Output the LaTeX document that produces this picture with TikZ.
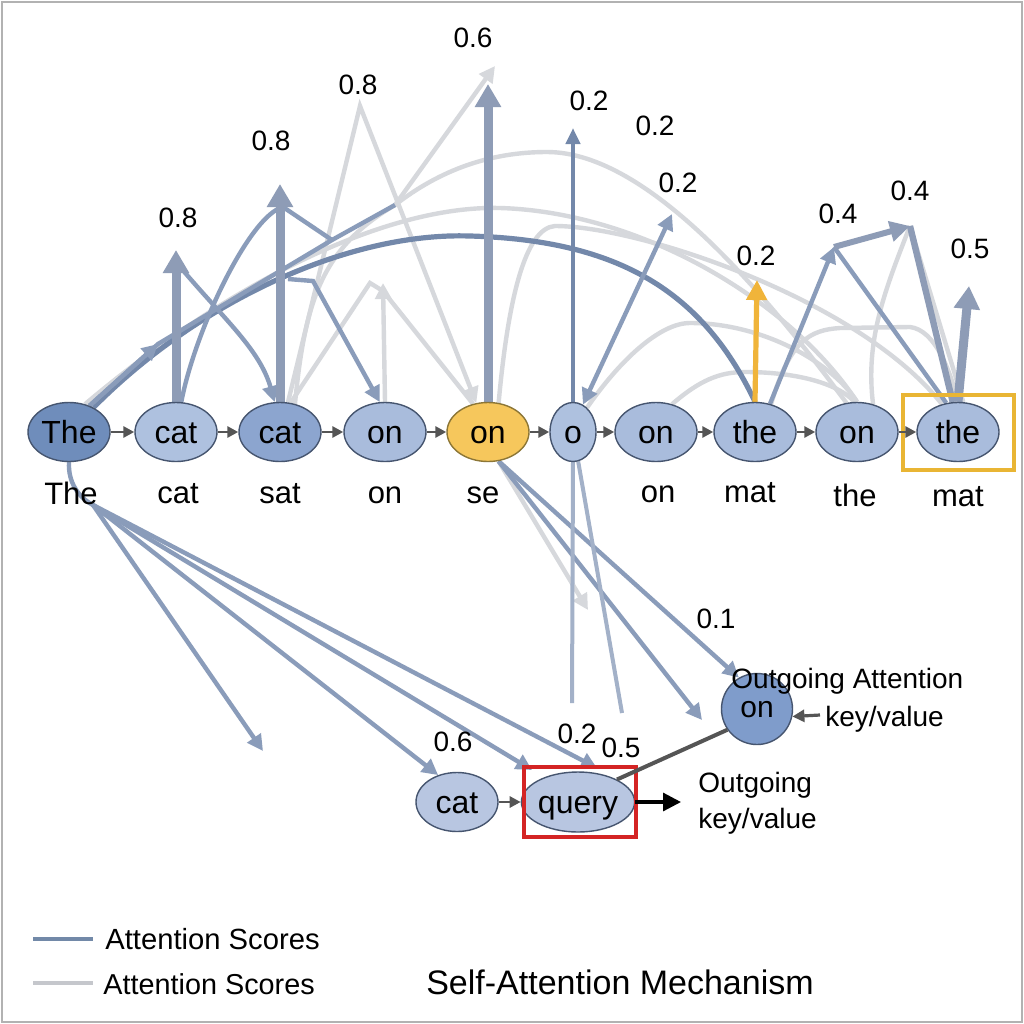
\documentclass[tikz,border=0pt]{standalone}
\usepackage{fontspec}
\setmainfont{Liberation Sans}
\usetikzlibrary{shapes.geometric,arrows.meta}
\pgfdeclarelayer{background}
\pgfdeclarelayer{canvas}
\pgfsetlayers{canvas,background,main}
\definecolor{cThe}{HTML}{6F8DBB}
\definecolor{cMid}{HTML}{8CA5CF}
\definecolor{cLight}{HTML}{AEC1DF}
\definecolor{cOn}{HTML}{A9BCDC}
\definecolor{cYel}{HTML}{F6C75C}
\definecolor{cYelB}{HTML}{8C7636}
\definecolor{cBord}{HTML}{46556F}
\definecolor{cCirc}{HTML}{7F9CCB}
\definecolor{cBot}{HTML}{B8C6E1}
\definecolor{aBlue}{HTML}{8A9CBA}
\definecolor{aDark}{HTML}{7388AA}
\definecolor{aLight}{HTML}{D6D8DC}
\definecolor{aThick}{HTML}{8E9CB6}
\definecolor{aPale}{HTML}{A3B1C8}
\definecolor{cOrange}{HTML}{F0B43A}
\definecolor{cBoxY}{HTML}{E9B534}
\definecolor{cRed}{HTML}{D42424}
\definecolor{cSeq}{HTML}{555555}
\definecolor{lgDark}{HTML}{7289A8}
\definecolor{lgLight}{HTML}{C5C7CC}
\tikzset{
  tok/.style={ellipse, draw=cBord, line width=0.7pt, minimum width=41pt, minimum height=29.5pt, inner sep=0pt, text height=11.5pt, text depth=0.5pt, font=\fontsize{16}{16}\selectfont},
  wlab/.style={anchor=base, inner sep=0pt, font=\fontsize{15.5}{15.5}\selectfont},
  val/.style={anchor=base, inner sep=0pt, font=\fontsize{14}{14}\selectfont},
  txt/.style={anchor=base west, inner sep=0pt, font=\fontsize{14}{14}\selectfont},
  seqA/.style={draw=cSeq, line width=1.4pt, -{Triangle[length=5.5pt,width=5.5pt]}},
  thickA/.style={draw=aThick, line width=4.5pt, -{Triangle[length=11.5pt,width=12.5pt]}},
  medA/.style={draw=aBlue, line width=2.2pt, -{Triangle[length=8pt,width=8pt]}},
  medL/.style={draw=aBlue, line width=2.2pt},
  darkL/.style={draw=aDark, line width=2.6pt},
  lightL/.style={draw=aLight, line width=2.2pt},
  lightA/.style={lightL, -{Triangle[length=8pt,width=8pt]}},
}
\begin{document}
\begin{tikzpicture}[x=0.5pt,y=-0.5pt]
\useasboundingbox (0,0) rectangle (1024,1024);
\begin{pgfonlayer}{canvas}
\fill[white] (0,0) rectangle (1024,1024);
\draw[gray!60, line width=1pt] (2,2) rectangle (1022,1022);
\end{pgfonlayer}

% ---- token row
\node[tok, fill=cThe] (The) at (69,432) {The};
\node[tok, fill=cLight] (c1) at (176,432) {cat};
\node[tok, fill=cMid] (c2) at (280,432) {cat};
\node[tok, fill=cOn] (n1) at (385,432) {on};
\node[tok, fill=cYel, draw=cYelB] (n2) at (488,432) {on};
\node[tok, fill=cLight, minimum width=23pt] (o) at (573,432) {o};
\node[tok, fill=cOn] (n3) at (656,432) {on};
\node[tok, fill=cOn] (t1) at (755,432) {the};
\node[tok, fill=cOn] (n4) at (857,432) {on};
\node[tok, fill=cOn] (t2) at (958,432) {the};
\node[draw=cBoxY, line width=2pt, minimum width=55.5pt, minimum height=37.5pt, inner sep=0pt] (box2) at (958.5,432.5) {};

\draw[seqA] (The) -- (c1);
\draw[seqA] (c1) -- (c2);
\draw[seqA] (c2) -- (n1);
\draw[seqA] (n1) -- (n2);
\draw[seqA] (n2) -- (o);
\draw[seqA] (o) -- (n3);
\draw[seqA] (n3) -- (t1);
\draw[seqA] (t1) -- (n4);
\draw[seqA] (n4) -- (t2);

% ---- words under the row
\node[wlab] (w1) at (71,504) {The};
\node[wlab] (w2) at (178,503) {cat};
\node[wlab] (w3) at (280,503) {sat};
\node[wlab] (w4) at (385,503) {on};
\node[wlab] (w5) at (483,503) {se};
\node[wlab] (w6) at (658,502) {on};
\node[wlab] (w7) at (750,502) {mat};
\node[wlab] (w8) at (855,506) {the};
\node[wlab] (w9) at (958,506) {mat};

% ---- score labels
\node[val] (v1) at (473,47) {0.6};
\node[val] (v2) at (358,94) {0.8};
\node[val] (v3) at (271,150) {0.8};
\node[val] (v4) at (178,227) {0.8};
\node[val] (v5) at (589,110) {0.2};
\node[val] (v6) at (655,135) {0.2};
\node[val] (v7) at (678,192) {0.2};
\node[val] (v8) at (756,265) {0.2};
\node[val] (v9) at (838,223) {0.4};
\node[val] (v10) at (910,200) {0.4};
\node[val] (v11) at (970,258) {0.5};
\node[val] (v12) at (716,628) {0.1};
\node[val] (v13) at (453,751) {0.6};
\node[val] (v14) at (577,743) {0.2};
\node[val] (v15) at (621,757) {0.5};

% ---- lower nodes
\node[tok, fill=cBot] (bc) at (457,802) {cat};
\node[tok, fill=cBot, minimum width=46.5pt, minimum height=30pt] (q) at (578,802) {query};
\node[draw=cRed, line width=1.8pt, minimum width=56pt, minimum height=35pt, inner sep=0pt] (qbox) at (580,802) {};
\node[circle, draw=cBord, line width=0.7pt, fill=cCirc, minimum size=35.5pt, inner sep=0pt, text height=8pt, text depth=0pt, font=\fontsize{15}{15}\selectfont] (onc) at (757,709) {on};
\node[txt] (oa) at (731,688) {Outgoing Attention};
\node[txt] (kv1) at (825,726) {key/value};
\node[txt] (og) at (698,792) {Outgoing};
\node[txt] (kv2) at (698,828) {key/value};
\coordinate (qout) at (681,802);
\coordinate (kvs) at (820,715);
\draw[seqA] (bc) -- (q);
\draw[black, line width=1.6pt, -{Triangle[length=9pt,width=9pt]}] (q) -- (qout);
\draw[cSeq, line width=2pt] (q.30) -- (onc.-145);
\draw[cSeq, line width=1.6pt, -{Triangle[length=6pt,width=6pt]}] (kvs) -- (onc.-12);

% ---- legend and title
\coordinate (lg1a) at (33,939); \coordinate (lg1b) at (93,939);
\coordinate (lg2a) at (33,983); \coordinate (lg2b) at (93,983);
\draw[lgDark, line width=2.2pt] (lg1a) -- (lg1b);
\draw[lgLight, line width=2.2pt] (lg2a) -- (lg2b);
\node[anchor=base west, inner sep=0pt, font=\fontsize{14.6}{14.6}\selectfont] (lt1) at (105,949) {Attention Scores};
\node[anchor=base west, inner sep=0pt, font=\fontsize{14.4}{14.4}\selectfont] (lt2) at (103,994) {Attention Scores};
\node[anchor=base, inner sep=0pt, font=\fontsize{17}{17}\selectfont] (title) at (620,994) {Self-Attention Mechanism};

% ---- connectors (behind)
\begin{pgfonlayer}{background}
\coordinate (tCat1) at (176,250);
\coordinate (tCat2) at (280,184);
\coordinate (tOn2) at (488,84);
\coordinate (tO) at (573,128);
\coordinate (tThe1) at (757,280);
\coordinate (tThe2) at (969,286);
\coordinate (p04a) at (834,247);
\coordinate (p04b) at (910,226);
\coordinate (p02c) at (672,214);
\coordinate (pk08) at (360,106);
\coordinate (p06l) at (495,66);
\coordinate (pOn1) at (383,283);
\coordinate (lj1) at (395,205);
\coordinate (lk1) at (332,240);
\coordinate (pLeft) at (158,344);
\coordinate (sCat) at (181,268);
\coordinate (sOn1) at (288,279);
\coordinate (fan) at (93,505);
\coordinate (bA) at (263,751);
\coordinate (qa) at (532,770);
\coordinate (qb) at (597,768);
\coordinate (bOn2a) at (588,610);
\coordinate (bOn2b) at (702,720);
\coordinate (bO1) at (572,703);
\coordinate (bO2) at (622,713);

% light lines
\draw[lightL] (The.60) .. controls (220,290) and (380,205) .. (500,208) .. controls (640,212) and (790,300) .. (n4.north);
\draw[lightL] (lj1) .. controls (440,170) and (490,152) .. (547,152) .. controls (650,152) and (770,300) .. (n4.110);
\draw[lightA] (c2.75) -- (pk08) -- (n2.112);
\draw[lightL] (c2.70) -- (370,283) -- (383,291) -- (n2.118);
\draw[lightA] (n1.north) -- (pOn1);
\draw[lightA] (c2.62) .. controls (305,300) and (322,248) .. (lj1) -- (p06l);
\draw[lightL] (n2.70) .. controls (508,300) and (525,228) .. (555,226) .. controls (640,226) and (860,300) .. (t2.120);
\draw[lightL] (o.60) .. controls (620,360) and (660,323) .. (690,323) .. controls (760,323) and (830,360) .. (n4.north);
\draw[lightL] (n3.60) .. controls (700,380) and (720,372) .. (745,372) .. controls (800,372) and (840,385) .. (n4.95);
\draw[lightL] (t1.60) .. controls (790,340) and (810,330) .. (840,328) -- (910,327) .. controls (935,330) and (950,370) .. (t2.north);
\draw[lightL] (p04b) .. controls (885,290) and (865,340) .. (n4.60);
\draw[lightL] (p04b) -- (t2.80);
\draw[lightA] (n2.-70) -- (bOn2a);

% blue lines
\draw[darkL] (The.45) .. controls (200,300) and (350,232) .. (470,236) .. controls (610,240) and (700,285) .. (t1.north);
\draw[medL] (The.52) -- (pLeft) -- (lk1) -- (lj1);
\draw[medA] (The.52) -- (pLeft);
\draw[medL] (c1.80) .. controls (195,330) and (250,215) .. (283,207) -- (lk1);
\draw[medA] (sCat) .. controls (225,320) and (260,350) .. (c2.100);
\draw[medA] (sOn1) -- (313,281) -- (n1.100);
\draw[thickA] (c1.north) -- (tCat1);
\draw[thickA] (c2.north) -- (tCat2);
\draw[thickA] (n2.north) -- (tOn2);
\draw[draw=aDark, line width=2pt, -{Triangle[length=8pt,width=7pt]}] (o.north) -- (tO);
\draw[draw=cOrange, line width=2.6pt, -{Triangle[length=10pt,width=10pt]}] (t1.north) -- (tThe1);
\draw[thickA] (t2.north) -- (tThe2);
\draw[medA, {Triangle[length=8pt,width=8pt]}-{Triangle[length=8pt,width=8pt]}] (o.70) -- (p02c);
\draw[medA] (t1.62) -- (p04a);
\draw[medL] (t2.112) -- (p04a);
\draw[draw=aThick, line width=3pt, -{Triangle[length=10pt,width=10pt]}] (p04a) -- (p04b);
\draw[draw=aThick, line width=3.2pt] (t2.100) -- (p04b);

% lower fan
\draw[medL] (The.south) .. controls (68,482) and (78,497) .. (fan);
\draw[medA] (fan) -- (bA);
\draw[medA] (fan) -- (bc.125);
\draw[medA] (fan) -- (qa);
\draw[medA] (fan) -- (qb);
\draw[medA] (n2.-70) -- (bOn2b);
\draw[medA] (n2.-70) -- (onc.120);
\draw[draw=aPale, line width=2pt] (o.south) -- (bO1);
\draw[draw=aPale, line width=2pt] (o.-80) -- (bO2);
\end{pgfonlayer}
\end{tikzpicture}
\end{document}
